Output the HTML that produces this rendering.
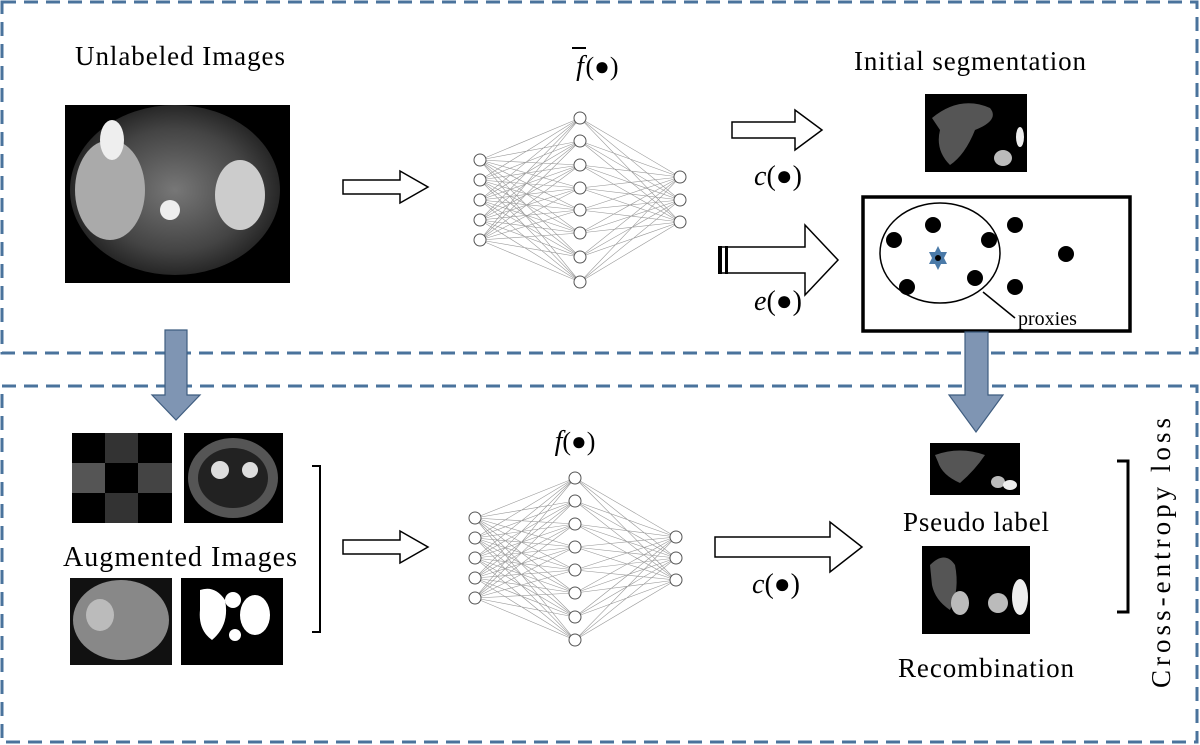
<!DOCTYPE html>
<html><head><style>body{margin:0;background:#fff}svg{display:block}text{font-family:"Liberation Serif",serif;fill:#000}</style></head><body>
<svg width="1200" height="745" viewBox="0 0 1200 745" xmlns="http://www.w3.org/2000/svg">
<defs>
<radialGradient id="g1" cx="50%" cy="50%" r="60%"><stop offset="0" stop-color="#777"/><stop offset="0.6" stop-color="#444"/><stop offset="1" stop-color="#111"/></radialGradient>
</defs>
<rect x="2" y="2" width="1195" height="351" fill="none" stroke="#4a739c" stroke-width="3" stroke-dasharray="14,8"/>
<rect x="2" y="386" width="1195" height="356" fill="none" stroke="#4a739c" stroke-width="3" stroke-dasharray="14,8"/>

<text x="180" y="65" font-size="27" text-anchor="middle" textLength="210">Unlabeled Images</text>
<rect x="65" y="105" width="225" height="178" fill="#000"/>
<ellipse cx="175" cy="190" rx="105" ry="85" fill="url(#g1)"/>
<ellipse cx="110" cy="190" rx="35" ry="50" fill="#aaa"/><ellipse cx="240" cy="195" rx="25" ry="35" fill="#ccc"/><ellipse cx="112" cy="140" rx="12" ry="20" fill="#eee"/><circle cx="170" cy="210" r="10" fill="#eee"/>

<text x="580" y="75" font-size="28" font-style="italic" text-anchor="middle">f</text><line x1="572" y1="48" x2="586" y2="48" stroke="#000" stroke-width="2"/>
<text x="602" y="75" font-size="26" text-anchor="middle">(●)</text>

<g stroke="#999" stroke-width="0.6">
<path d="M480 160L580 118M480 160L580 141M480 160L580 165M480 160L580 188M480 160L580 210M480 160L580 233M480 160L580 257M480 160L580 282M480 180L580 118M480 180L580 141M480 180L580 165M480 180L580 188M480 180L580 210M480 180L580 233M480 180L580 257M480 180L580 282M480 200L580 118M480 200L580 141M480 200L580 165M480 200L580 188M480 200L580 210M480 200L580 233M480 200L580 257M480 200L580 282M480 220L580 118M480 220L580 141M480 220L580 165M480 220L580 188M480 220L580 210M480 220L580 233M480 220L580 257M480 220L580 282M480 240L580 118M480 240L580 141M480 240L580 165M480 240L580 188M480 240L580 210M480 240L580 233M480 240L580 257M480 240L580 282"/>
<path d="M680 177L580 118M680 177L580 141M680 177L580 165M680 177L580 188M680 177L580 210M680 177L580 233M680 177L580 257M680 177L580 282M680 200L580 118M680 200L580 141M680 200L580 165M680 200L580 188M680 200L580 210M680 200L580 233M680 200L580 257M680 200L580 282M680 222L580 118M680 222L580 141M680 222L580 165M680 222L580 188M680 222L580 210M680 222L580 233M680 222L580 257M680 222L580 282"/>
<path d="M475 518L575 478M475 518L575 501M475 518L575 524M475 518L575 547M475 518L575 570M475 518L575 593M475 518L575 617M475 518L575 640M475 538L575 478M475 538L575 501M475 538L575 524M475 538L575 547M475 538L575 570M475 538L575 593M475 538L575 617M475 538L575 640M475 558L575 478M475 558L575 501M475 558L575 524M475 558L575 547M475 558L575 570M475 558L575 593M475 558L575 617M475 558L575 640M475 578L575 478M475 578L575 501M475 578L575 524M475 578L575 547M475 578L575 570M475 578L575 593M475 578L575 617M475 578L575 640M475 598L575 478M475 598L575 501M475 598L575 524M475 598L575 547M475 598L575 570M475 598L575 593M475 598L575 617M475 598L575 640"/>
<path d="M676 537L575 478M676 537L575 501M676 537L575 524M676 537L575 547M676 537L575 570M676 537L575 593M676 537L575 617M676 537L575 640M676 558L575 478M676 558L575 501M676 558L575 524M676 558L575 547M676 558L575 570M676 558L575 593M676 558L575 617M676 558L575 640M676 580L575 478M676 580L575 501M676 580L575 524M676 580L575 547M676 580L575 570M676 580L575 593M676 580L575 617M676 580L575 640"/>
</g>
<g fill="#fff" stroke="#555" stroke-width="1">
<circle cx="480" cy="160" r="6"/><circle cx="480" cy="180" r="6"/><circle cx="480" cy="200" r="6"/><circle cx="480" cy="220" r="6"/><circle cx="480" cy="240" r="6"/>
<circle cx="580" cy="118" r="6"/><circle cx="580" cy="141" r="6"/><circle cx="580" cy="165" r="6"/><circle cx="580" cy="188" r="6"/><circle cx="580" cy="210" r="6"/><circle cx="580" cy="233" r="6"/><circle cx="580" cy="257" r="6"/><circle cx="580" cy="282" r="6"/>
<circle cx="680" cy="177" r="6"/><circle cx="680" cy="200" r="6"/><circle cx="680" cy="222" r="6"/>
<circle cx="475" cy="518" r="6"/><circle cx="475" cy="538" r="6"/><circle cx="475" cy="558" r="6"/><circle cx="475" cy="578" r="6"/><circle cx="475" cy="598" r="6"/>
<circle cx="575" cy="478" r="6"/><circle cx="575" cy="501" r="6"/><circle cx="575" cy="524" r="6"/><circle cx="575" cy="547" r="6"/><circle cx="575" cy="570" r="6"/><circle cx="575" cy="593" r="6"/><circle cx="575" cy="617" r="6"/><circle cx="575" cy="640" r="6"/>
<circle cx="676" cy="537" r="6"/><circle cx="676" cy="558" r="6"/><circle cx="676" cy="580" r="6"/>
</g>

<g fill="#fff" stroke="#000" stroke-width="1.5">
<path d="M343 180H400V171L428 187L400 203V194H343Z"/>
<path d="M732 122H795V110L822 130L795 150V138H732Z"/>
<path d="M720 247H805V225L838 260L805 295V273H720Z"/>
<path d="M343 540H400V531L428 547L400 563V554H343Z"/>
<path d="M715 537H830V522L862 547L830 572V557H715Z"/>
</g>
<rect x="718" y="246" width="4" height="28" fill="#000"/><rect x="725" y="246" width="3" height="28" fill="#000"/>

<text x="970" y="70" font-size="27" text-anchor="middle" textLength="232">Initial segmentation</text>
<rect x="925" y="94" width="102" height="78" fill="#000"/>
<path d="M932 118Q960 95 990 108Q1000 120 975 130Q965 155 950 165Q935 150 940 130Z" fill="#555"/>
<ellipse cx="1003" cy="158" rx="9" ry="8" fill="#bbb"/><ellipse cx="1020" cy="137" rx="4" ry="10" fill="#eee"/>
<text x="778" y="185" font-size="28" font-style="italic" text-anchor="middle">c<tspan font-style="normal">(●)</tspan></text>
<text x="778" y="310" font-size="28" font-style="italic" text-anchor="middle">e<tspan font-style="normal">(●)</tspan></text>

<rect x="863" y="197" width="267" height="134" fill="#fff" stroke="#000" stroke-width="3.5"/>
<ellipse cx="940" cy="253" rx="60" ry="50" fill="none" stroke="#000" stroke-width="1.5"/>
<g fill="#000"><circle cx="894" cy="240" r="8"/><circle cx="933" cy="225" r="8"/><circle cx="989" cy="240" r="8"/><circle cx="907" cy="287" r="8"/><circle cx="975" cy="278" r="8"/><circle cx="1015" cy="225" r="8"/><circle cx="1066" cy="254" r="8"/><circle cx="1015" cy="287" r="8"/></g>
<polygon points="938,246 941,252 947,252 944,258 947,264 941,264 938,270 935,264 929,264 932,258 929,252 935,252" fill="#4a7aa8"/><circle cx="938" cy="258" r="3" fill="#000"/>
<line x1="983" y1="292" x2="1015" y2="318" stroke="#000" stroke-width="1.5"/>
<text x="1018" y="325" font-size="20">proxies</text>

<g fill="#7f95b3" stroke="#3f5d80" stroke-width="1.2">
<path d="M165 330H187V395H200L176 420L152 395H165Z"/>
<path d="M965 332H988V395H1003L976 432L949 395H965Z"/>
</g>

<rect x="72" y="433" width="100" height="90" fill="#000"/>
<rect x="105" y="433" width="33" height="30" fill="#333"/><rect x="72" y="463" width="33" height="30" fill="#555"/><rect x="138" y="463" width="34" height="30" fill="#444"/><rect x="105" y="493" width="33" height="30" fill="#333"/>
<rect x="184" y="433" width="99" height="90" fill="#000"/><ellipse cx="233" cy="478" rx="45" ry="40" fill="#555"/><ellipse cx="233" cy="478" rx="35" ry="30" fill="#222"/><circle cx="220" cy="470" r="9" fill="#ddd"/><circle cx="250" cy="470" r="8" fill="#ddd"/>
<text x="180" y="566" font-size="28" text-anchor="middle" textLength="234">Augmented Images</text>
<rect x="70" y="578" width="102" height="87" fill="#111"/><ellipse cx="121" cy="620" rx="48" ry="40" fill="#888"/><ellipse cx="100" cy="615" rx="14" ry="16" fill="#bbb"/>
<rect x="181" y="578" width="102" height="87" fill="#000"/><path d="M200 590Q215 585 225 600Q230 625 212 640Q198 630 200 610Z" fill="#fff"/><ellipse cx="255" cy="615" rx="15" ry="20" fill="#fff"/><circle cx="233" cy="600" r="8" fill="#fff"/><circle cx="235" cy="635" r="6" fill="#fff"/>
<path d="M312 466H320V632H312" fill="none" stroke="#000" stroke-width="2"/>

<text x="575" y="450" font-size="28" font-style="italic" text-anchor="middle">f<tspan font-style="normal" font-size="26">(●)</tspan></text>
<text x="776" y="593" font-size="28" font-style="italic" text-anchor="middle">c<tspan font-style="normal">(●)</tspan></text>

<rect x="930" y="443" width="90" height="52" fill="#000"/><path d="M935 455Q960 446 985 455Q975 470 960 483Q942 475 938 462Z" fill="#555"/><ellipse cx="998" cy="482" rx="7" ry="6" fill="#bbb"/><ellipse cx="1010" cy="485" rx="7" ry="5" fill="#eee"/>
<text x="976" y="531" font-size="27" text-anchor="middle" textLength="146">Pseudo label</text>
<rect x="922" y="546" width="108" height="88" fill="#000"/><path d="M930 565Q945 550 955 565Q960 590 950 610Q935 600 932 585Z" fill="#555"/><ellipse cx="960" cy="603" rx="9" ry="12" fill="#bbb"/><ellipse cx="998" cy="603" rx="10" ry="10" fill="#bbb"/><ellipse cx="1020" cy="597" rx="8" ry="18" fill="#eee"/>
<text x="986" y="677" font-size="27" text-anchor="middle" textLength="176">Recombination</text>
<path d="M1117 461H1128V612H1117" fill="none" stroke="#000" stroke-width="3"/>
<text transform="translate(1170,553) rotate(-90)" font-size="27" text-anchor="middle" textLength="270">Cross-entropy loss</text>
</svg>
</body></html>
